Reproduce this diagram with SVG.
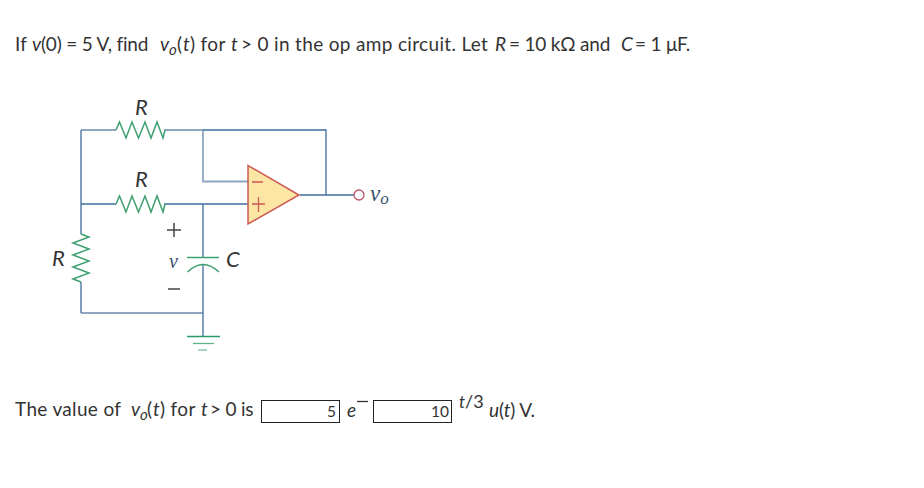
<svg xmlns="http://www.w3.org/2000/svg" width="924" height="488" viewBox="0 0 924 488">
<style>
text{font-family:"Lato","Liberation Sans",sans-serif;fill:#333}
.t{font-size:19px;letter-spacing:.33px}
.n{letter-spacing:-.2px}
.i{font-style:italic}
.w{fill:none;stroke:#3f6f9f;stroke-width:1.3}
.p{fill:none;stroke:#8ea6c2;stroke-width:1.800}
.g{fill:none;stroke:#3f9f6f;stroke-width:1.5}
.l{font-size:22px;font-style:italic;fill:#333}
.s{font-family:"Liberation Serif",serif;font-style:italic;fill:#39506b}
.b{fill:#fff;stroke:#222;stroke-width:1}
</style>
<rect width="924" height="488" fill="#fff"/>
<g id="question">
<text class="t" y="51"><tspan x="15">If </tspan><tspan x="32" class="i">v</tspan><tspan x="41" class="n">(0) = 5 V, find </tspan><tspan x="160" class="i">v</tspan><tspan x="169" y="55" class="i" font-size="15">o</tspan><tspan x="177" y="51">(</tspan><tspan x="183" class="i">t</tspan><tspan x="190">) for </tspan><tspan x="231" class="i">t</tspan><tspan x="241">&gt; 0 in the op amp circuit. Let </tspan><tspan x="495" class="i">R</tspan><tspan x="509" class="n">= 10 kΩ and </tspan><tspan x="621" class="i">C</tspan><tspan x="635" class="n">= 1 μF.</tspan></text>
</g>
<g id="connectors">
<path class="p" d="M116 130H81M164 130H203V181.500H248M81 313H203"/>
<path class="w" d="M81 130V234M81 282V313M81 204H116M203 130H326V195M164 204H248M203 204V258M203 265V336M300 195H354"/>
</g>
<g id="r-top"><path class="g" d="M116 130L119.500 122L126 138L132 122L138.500 138L145 122L151 138L157 122L163 138L165 130"/><text class="l" x="135" y="115">R</text></g>
<g id="r-mid"><path class="g" d="M116 204L119.500 196L126 212L132 196L138.500 212L145 196L151 212L157 196L163 212L165 204"/><text class="l" x="135" y="187">R</text></g>
<g id="r-left"><path class="g" d="M81 234L89 237L73 243L89 249L73 255L89 261L73 267L89 273L73 279L81 282"/><text class="l" x="52" y="266">R</text></g>
<g id="capacitor"><path class="g" d="M187 257.500H219M187.500 272Q203 257 219 272"/><text class="l" x="226" y="267">C</text></g>
<g id="voltage"><path d="M167 230H181M174 223V237M168 289H180" stroke="#444" stroke-width="1.500" fill="none"/><text class="s" x="173.500" y="268" font-size="20" text-anchor="middle">v</text></g>
<g id="ground"><path d="M187 336.500H220" stroke="#2a9a68" stroke-width="1.300"/><path d="M193 343.500H214" stroke="#5fb08c" stroke-width="1.300"/><path d="M198 350H207" stroke="#7cc0a0" stroke-width="1.300"/></g>
<g id="opamp"><path d="M248 165.500V224L299 195Z" fill="#fde5a4" stroke="#cc5a55" stroke-width="1.500"/><path d="M252 182H263M252 204H265M258.500 197V212" stroke="#cc5a55" stroke-width="1.300" fill="none"/></g>
<g id="output"><circle cx="359" cy="195" r="5" fill="#fff" stroke="#c0566a" stroke-width="1.300"/><text class="s" x="370" y="201" font-size="23">v<tspan font-size="17" dy="3">o</tspan></text></g>
<g id="answer">
<text class="t" x="15" y="416">The value of <tspan class="i" x="131">v</tspan><tspan class="i" x="140" y="420" font-size="15">o</tspan><tspan x="147" y="416">(</tspan><tspan class="i" x="153">t</tspan><tspan x="160">) for </tspan><tspan class="i" x="201">t</tspan><tspan x="210" class="n">&gt; 0 is</tspan></text>
<rect class="b" x="261.500" y="400.500" width="78" height="22"/>
<text x="336" y="417" text-anchor="end" font-size="15.500">5</text>
<text x="347" y="417" class="t i">e</text><path d="M357 401.500H368" stroke="#333" stroke-width="1.300"/>
<rect class="b" x="373.500" y="400.500" width="78" height="22"/>
<text x="449" y="417" text-anchor="end" font-size="15.500">10</text>
<text x="459" y="408" class="i" font-size="17">t</text><text x="465" y="408" font-size="18">/3</text>
<text x="489" y="417" class="t n"><tspan class="i">u</tspan>(<tspan class="i">t</tspan>) V.</text>
</g>
</svg>
